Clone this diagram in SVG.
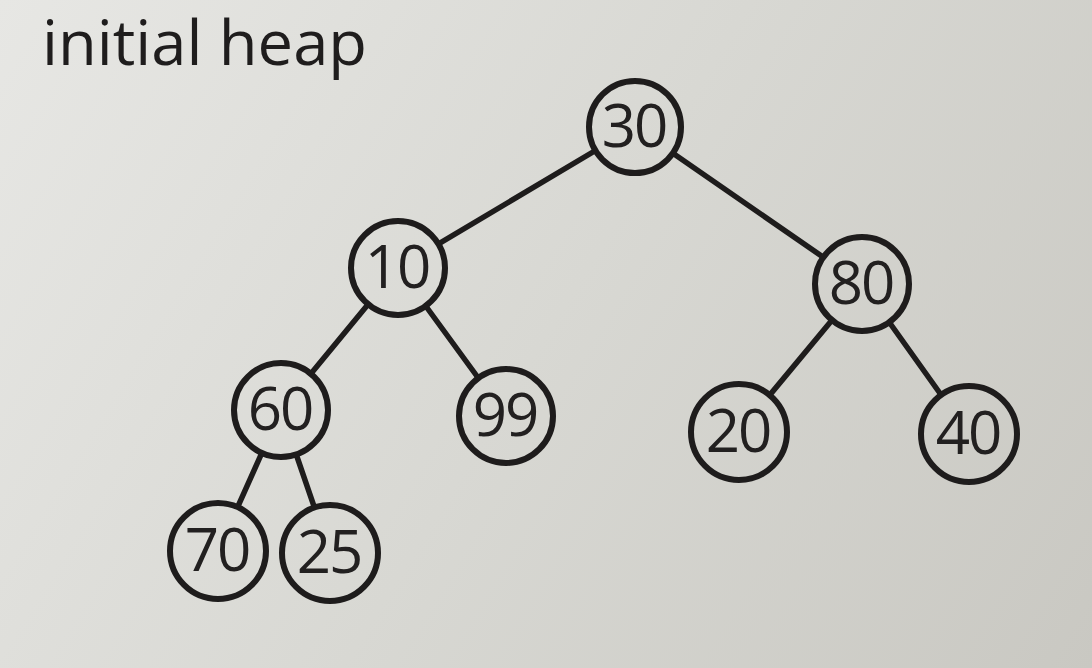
<svg xmlns="http://www.w3.org/2000/svg" width="1092" height="668" viewBox="0 0 1092 668">
  <defs>
    <linearGradient id="bg" gradientUnits="userSpaceOnUse" x1="0" y1="0" x2="1092" y2="668">
      <stop offset="0" stop-color="#e7e7e4"/>
      <stop offset="0.5" stop-color="#d8d8d3"/>
      <stop offset="1" stop-color="#c9c8c2"/>
    </linearGradient>
    <style>
      .edge { stroke: #1e1c1c; stroke-width: 5.5; stroke-linecap: round; fill: none; }
      .node circle { fill: url(#bg); stroke: #1e1c1c; stroke-width: 6; }
      .node text { font-family: "Open Sans", "Noto Sans", sans-serif; font-size: 60px; letter-spacing: -2px; fill: #222020; text-anchor: middle; dominant-baseline: central; }
      .title { font-family: "Open Sans", "Noto Sans", sans-serif; font-size: 62px; font-weight: 500; fill: #1f1d1d; }
    </style>
  </defs>
  <rect x="0" y="0" width="1092" height="668" fill="url(#bg)"/>
  <text class="title" x="42" y="65" textLength="325" lengthAdjust="spacingAndGlyphs">initial heap</text>
  <g id="edges">
    <line class="edge" x1="635" y1="127" x2="398" y2="268"/>
    <line class="edge" x1="635" y1="127" x2="862" y2="284"/>
    <line class="edge" x1="398" y1="268" x2="281" y2="410"/>
    <line class="edge" x1="398" y1="268" x2="506" y2="416"/>
    <line class="edge" x1="862" y1="284" x2="739" y2="432"/>
    <line class="edge" x1="862" y1="284" x2="969" y2="434"/>
    <line class="edge" x1="281" y1="410" x2="218" y2="551"/>
    <line class="edge" x1="281" y1="410" x2="330" y2="553"/>
  </g>
  <g id="n30" class="node"><circle cx="635" cy="127" r="46"/><text x="634" y="124">30</text></g>
  <g id="n10" class="node"><circle cx="398" cy="268" r="47"/><text x="397" y="265">10</text></g>
  <g id="n80" class="node"><circle cx="862" cy="284" r="47"/><text x="861" y="281">80</text></g>
  <g id="n60" class="node"><circle cx="281" cy="410" r="47"/><text x="280" y="407">60</text></g>
  <g id="n99" class="node"><circle cx="506" cy="416" r="47"/><text x="505" y="413">99</text></g>
  <g id="n20" class="node"><circle cx="739" cy="432" r="48"/><text x="738" y="429">20</text></g>
  <g id="n40" class="node"><circle cx="969" cy="434" r="48"/><text x="968" y="431">40</text></g>
  <g id="n70" class="node"><circle cx="218" cy="551" r="48"/><text x="217" y="548">70</text></g>
  <g id="n25" class="node"><circle cx="330" cy="553" r="48"/><text x="329" y="550">25</text></g>
</svg>
